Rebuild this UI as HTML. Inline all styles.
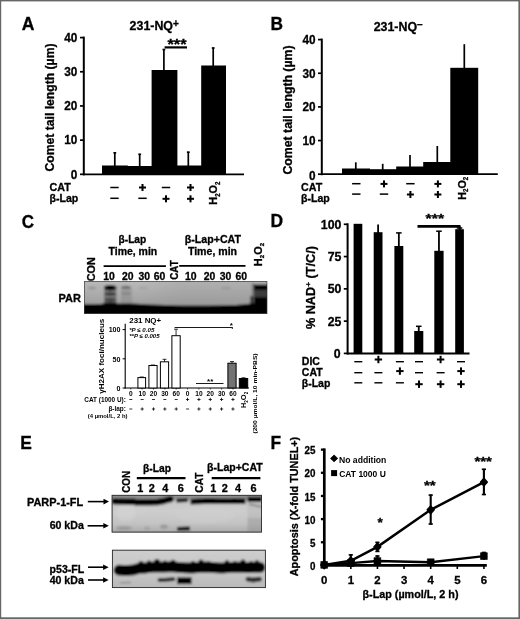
<!DOCTYPE html>
<html lang="en">
<head>
<meta charset="utf-8">
<title>Figure</title>
<style>
html,body{margin:0;padding:0;background:#fff;}
svg{display:block;font-family:'Liberation Sans', sans-serif;}
text{fill:#000;} .h{stroke:#000;stroke-width:0.3px;}
</style>
</head>
<body>
<svg width="520" height="619" viewBox="0 0 520 619" font-family="Liberation Sans, sans-serif" >

<defs>
<filter id="b1" x="-5%" y="-20%" width="110%" height="140%"><feGaussianBlur stdDeviation="1.05"/></filter>
<filter id="b2" x="-5%" y="-20%" width="110%" height="140%"><feGaussianBlur stdDeviation="0.95"/></filter>
<clipPath id="clipC"><rect x="84.1" y="281.1" width="183" height="32.7"/></clipPath>
<clipPath id="clipE1"><rect x="111.8" y="495" width="150" height="37.4"/></clipPath>
<clipPath id="clipE2"><rect x="112" y="549.8" width="153.8" height="38.2"/></clipPath>
<linearGradient id="gC" x1="0" y1="0" x2="0" y2="1">
<stop offset="0" stop-color="#bdbdbd"/><stop offset="0.2" stop-color="#b5b5b5"/><stop offset="0.45" stop-color="#aaaaaa"/><stop offset="0.7" stop-color="#9e9e9e"/><stop offset="1" stop-color="#949494"/>
</linearGradient>
<linearGradient id="gCh" x1="0" y1="0" x2="1" y2="0"><stop offset="0" stop-color="#8c8c8c" stop-opacity="0"/><stop offset="0.3" stop-color="#8c8c8c" stop-opacity="0.22"/><stop offset="1" stop-color="#8c8c8c" stop-opacity="0.22"/></linearGradient>
<linearGradient id="gE1" x1="0" y1="0" x2="0" y2="1">
<stop offset="0" stop-color="#c4c4c4"/><stop offset="0.45" stop-color="#cdcdcd"/><stop offset="0.72" stop-color="#c4c4c4"/><stop offset="0.88" stop-color="#b0b0b0"/><stop offset="1" stop-color="#969696"/>
</linearGradient>
<linearGradient id="gE2" x1="0" y1="0" x2="0" y2="1">
<stop offset="0" stop-color="#cfcfcf"/><stop offset="0.6" stop-color="#c6c6c6"/><stop offset="1" stop-color="#b4b4b4"/>
</linearGradient>
</defs>

<rect x="0" y="0" width="520" height="619" fill="#fff"/>
<text x="21.7" y="30.2" font-size="17.6" text-anchor="start" font-weight="bold" class="h" >A</text>
<text x="129.6" y="30.3" font-size="12.4" font-weight="bold" class="h">231-NQ<tspan dy="-3.6" font-size="10">+</tspan></text>
<text x="54" y="107.5" font-size="12" text-anchor="middle" font-weight="bold" transform="rotate(-90 54 107.5)" textLength="128" lengthAdjust="spacingAndGlyphs" class="h" >Comet tail length (µm)</text>
<line x1="83.8" y1="36.6" x2="83.8" y2="175.3" stroke="#000" stroke-width="2.0" />
<line x1="83.0" y1="174.3" x2="244" y2="174.3" stroke="#000" stroke-width="1.8" />
<line x1="80.0" y1="174.3" x2="83.8" y2="174.3" stroke="#000" stroke-width="1.7" />
<text x="77.4" y="178.5" font-size="12.5" text-anchor="end" font-weight="bold" textLength="6.55" lengthAdjust="spacingAndGlyphs" class="h" >0</text>
<line x1="80.0" y1="140.125" x2="83.8" y2="140.125" stroke="#000" stroke-width="1.7" />
<text x="77.4" y="144.325" font-size="12.5" text-anchor="end" font-weight="bold" textLength="13.1" lengthAdjust="spacingAndGlyphs" class="h" >10</text>
<line x1="80.0" y1="105.95" x2="83.8" y2="105.95" stroke="#000" stroke-width="1.7" />
<text x="77.4" y="110.15" font-size="12.5" text-anchor="end" font-weight="bold" textLength="13.1" lengthAdjust="spacingAndGlyphs" class="h" >20</text>
<line x1="80.0" y1="71.775" x2="83.8" y2="71.775" stroke="#000" stroke-width="1.7" />
<text x="77.4" y="75.97500000000001" font-size="12.5" text-anchor="end" font-weight="bold" textLength="13.1" lengthAdjust="spacingAndGlyphs" class="h" >30</text>
<line x1="80.0" y1="37.599999999999994" x2="83.8" y2="37.599999999999994" stroke="#000" stroke-width="1.7" />
<text x="77.4" y="41.8" font-size="12.5" text-anchor="end" font-weight="bold" textLength="13.1" lengthAdjust="spacingAndGlyphs" class="h" >40</text>
<rect x="102" y="165.5" width="25.799999999999997" height="8.800000000000011" fill="#000" />
<line x1="114.8" y1="152.3" x2="114.8" y2="166.5" stroke="#000" stroke-width="1.7" />
<line x1="113.39999999999999" y1="152.8" x2="116.2" y2="152.8" stroke="#000" stroke-width="1.6" />
<rect x="126.8" y="166" width="25.799999999999997" height="8.300000000000011" fill="#000" />
<line x1="139.7" y1="153.8" x2="139.7" y2="167" stroke="#000" stroke-width="1.7" />
<line x1="138.29999999999998" y1="154.3" x2="141.1" y2="154.3" stroke="#000" stroke-width="1.6" />
<rect x="151.6" y="70" width="25.80000000000001" height="104.30000000000001" fill="#000" />
<line x1="163.9" y1="49" x2="163.9" y2="71" stroke="#000" stroke-width="1.7" />
<line x1="162.5" y1="49.5" x2="165.3" y2="49.5" stroke="#000" stroke-width="1.6" />
<rect x="176.4" y="165.5" width="25.799999999999983" height="8.800000000000011" fill="#000" />
<line x1="188.3" y1="151.7" x2="188.3" y2="166.5" stroke="#000" stroke-width="1.7" />
<line x1="186.9" y1="152.2" x2="189.70000000000002" y2="152.2" stroke="#000" stroke-width="1.6" />
<rect x="201.2" y="65.5" width="24.80000000000001" height="108.80000000000001" fill="#000" />
<line x1="213.2" y1="47.5" x2="213.2" y2="66.5" stroke="#000" stroke-width="1.7" />
<line x1="211.79999999999998" y1="48.0" x2="214.6" y2="48.0" stroke="#000" stroke-width="1.6" />
<line x1="164.6" y1="47.4" x2="187" y2="47.4" stroke="#000" stroke-width="2.2" />
<text x="177" y="49.0" font-size="14" text-anchor="middle" font-weight="bold" textLength="19" lengthAdjust="spacingAndGlyphs" class="h" >***</text>
<text x="49.5" y="190.8" font-size="10.7" text-anchor="start" font-weight="bold" class="h" >CAT</text>
<text x="49.5" y="201.8" font-size="10.6" text-anchor="start" font-weight="bold" class="h" >β-Lap</text>
<rect x="110.3" y="186.75" width="8.4" height="1.5" fill="#000" />
<rect x="110.3" y="197.55" width="8.4" height="1.5" fill="#000" />
<rect x="139.0" y="186.5" width="7" height="2" fill="#000" />
<rect x="141.5" y="184.0" width="2" height="7" fill="#000" />
<rect x="138.3" y="197.55" width="8.4" height="1.5" fill="#000" />
<rect x="161.8" y="186.75" width="8.4" height="1.5" fill="#000" />
<rect x="162.5" y="197.8" width="7" height="2" fill="#000" />
<rect x="165.0" y="195.3" width="2" height="7" fill="#000" />
<rect x="187.0" y="186.5" width="7" height="2" fill="#000" />
<rect x="189.5" y="184.0" width="2" height="7" fill="#000" />
<rect x="187.0" y="197.8" width="7" height="2" fill="#000" />
<rect x="189.5" y="195.3" width="2" height="7" fill="#000" />
<text x="217.3" y="204.7" font-size="11.3" font-weight="bold" class="h" textLength="23.2" lengthAdjust="spacingAndGlyphs" transform="rotate(-90 217.3 204.7)">H<tspan dy="2.26" font-size="6.33">2</tspan><tspan dy="-2.26">O</tspan><tspan dy="2.26" font-size="6.33">2</tspan></text>
<text x="270.6" y="30.2" font-size="17.6" text-anchor="start" font-weight="bold" textLength="12.5" lengthAdjust="spacingAndGlyphs" class="h" >B</text>
<text x="373.7" y="30.6" font-size="12.4" font-weight="bold" class="h">231-NQ<tspan dy="-2.6" font-size="10">–</tspan></text>
<text x="292.3" y="110" font-size="12" text-anchor="middle" font-weight="bold" transform="rotate(-90 292.3 110)" textLength="129" lengthAdjust="spacingAndGlyphs" class="h" >Comet tail length (µm)</text>
<line x1="321.8" y1="38.6" x2="321.8" y2="175.2" stroke="#000" stroke-width="2.0" />
<line x1="321.0" y1="174.2" x2="497.8" y2="174.2" stroke="#000" stroke-width="1.8" />
<line x1="318.0" y1="174.2" x2="321.8" y2="174.2" stroke="#000" stroke-width="1.7" />
<text x="315.6" y="179.6" font-size="12.5" text-anchor="end" font-weight="bold" textLength="6.55" lengthAdjust="spacingAndGlyphs" class="h" >0</text>
<line x1="318.0" y1="140.54999999999998" x2="321.8" y2="140.54999999999998" stroke="#000" stroke-width="1.7" />
<text x="315.6" y="144.85" font-size="12.5" text-anchor="end" font-weight="bold" textLength="13.1" lengthAdjust="spacingAndGlyphs" class="h" >10</text>
<line x1="318.0" y1="106.89999999999999" x2="321.8" y2="106.89999999999999" stroke="#000" stroke-width="1.7" />
<text x="315.6" y="111.19999999999999" font-size="12.5" text-anchor="end" font-weight="bold" textLength="13.1" lengthAdjust="spacingAndGlyphs" class="h" >20</text>
<line x1="318.0" y1="73.25" x2="321.8" y2="73.25" stroke="#000" stroke-width="1.7" />
<text x="315.6" y="77.55" font-size="12.5" text-anchor="end" font-weight="bold" textLength="13.1" lengthAdjust="spacingAndGlyphs" class="h" >30</text>
<line x1="318.0" y1="39.599999999999994" x2="321.8" y2="39.599999999999994" stroke="#000" stroke-width="1.7" />
<text x="315.6" y="43.89999999999999" font-size="12.5" text-anchor="end" font-weight="bold" textLength="13.1" lengthAdjust="spacingAndGlyphs" class="h" >40</text>
<rect x="342.0" y="168.5" width="28.0" height="5.699999999999989" fill="#000" />
<line x1="355.8" y1="162.3" x2="355.8" y2="169.5" stroke="#000" stroke-width="1.7" />
<rect x="369.0" y="169.2" width="28.19999999999999" height="5.0" fill="#000" />
<line x1="382.7" y1="163.8" x2="382.7" y2="170.2" stroke="#000" stroke-width="1.7" />
<rect x="396.2" y="166.5" width="28.0" height="7.699999999999989" fill="#000" />
<line x1="410" y1="155" x2="410" y2="167.5" stroke="#000" stroke-width="1.7" />
<rect x="423.2" y="162" width="28.100000000000023" height="12.199999999999989" fill="#000" />
<line x1="437.3" y1="146" x2="437.3" y2="163" stroke="#000" stroke-width="1.7" />
<rect x="450.3" y="67.8" width="27.899999999999977" height="106.39999999999999" fill="#000" />
<line x1="464.3" y1="44.2" x2="464.3" y2="68.8" stroke="#000" stroke-width="1.7" />
<text x="301" y="190.8" font-size="10.7" text-anchor="start" font-weight="bold" class="h" >CAT</text>
<text x="301" y="202.2" font-size="10.6" text-anchor="start" font-weight="bold" class="h" >β-Lap</text>
<rect x="352.1" y="182.95" width="8.4" height="1.5" fill="#000" />
<rect x="352.1" y="193.35" width="8.4" height="1.5" fill="#000" />
<rect x="380.5" y="182.89999999999998" width="7" height="2" fill="#000" />
<rect x="383.0" y="180.39999999999998" width="2" height="7" fill="#000" />
<rect x="379.8" y="193.35" width="8.4" height="1.5" fill="#000" />
<rect x="406.2" y="182.95" width="8.4" height="1.5" fill="#000" />
<rect x="406.9" y="193.5" width="7" height="2" fill="#000" />
<rect x="409.4" y="191.0" width="2" height="7" fill="#000" />
<rect x="434.4" y="182.89999999999998" width="7" height="2" fill="#000" />
<rect x="436.9" y="180.39999999999998" width="2" height="7" fill="#000" />
<rect x="434.4" y="193.5" width="7" height="2" fill="#000" />
<rect x="436.9" y="191.0" width="2" height="7" fill="#000" />
<text x="465.6" y="199.8" font-size="11.3" font-weight="bold" class="h" textLength="23.0" lengthAdjust="spacingAndGlyphs" transform="rotate(-90 465.6 199.8)">H<tspan dy="2.26" font-size="6.33">2</tspan><tspan dy="-2.26">O</tspan><tspan dy="2.26" font-size="6.33">2</tspan></text>
<text x="21.7" y="228.4" font-size="17.6" text-anchor="start" font-weight="bold" textLength="12.3" lengthAdjust="spacingAndGlyphs" class="h" >C</text>
<text x="132.4" y="243.1" font-size="10.7" text-anchor="middle" font-weight="bold" textLength="27.8" lengthAdjust="spacingAndGlyphs" class="h" >β-Lap</text>
<text x="132.9" y="255.1" font-size="10.6" text-anchor="middle" font-weight="bold" textLength="48.7" lengthAdjust="spacingAndGlyphs" class="h" >Time, min</text>
<text x="212.9" y="242.8" font-size="10.6" text-anchor="middle" font-weight="bold" textLength="56.2" lengthAdjust="spacingAndGlyphs" class="h" >β-Lap+CAT</text>
<text x="212.5" y="254.6" font-size="10.6" text-anchor="middle" font-weight="bold" textLength="49.2" lengthAdjust="spacingAndGlyphs" class="h" >Time, min</text>
<text x="95.0" y="281.2" font-size="10" text-anchor="start" font-weight="bold" transform="rotate(-90 95.0 281.2)" textLength="24" lengthAdjust="spacingAndGlyphs" class="h" >CON</text>
<text x="177.8" y="279.7" font-size="10" text-anchor="start" font-weight="bold" transform="rotate(-90 177.8 279.7)" textLength="19.4" lengthAdjust="spacingAndGlyphs" class="h" >CAT</text>
<text x="262.0" y="266.2" font-size="11" font-weight="bold" class="h" textLength="23.4" lengthAdjust="spacingAndGlyphs" transform="rotate(-90 262.0 266.2)">H<tspan dy="2.42" font-size="6.16">2</tspan><tspan dy="-2.42">O</tspan><tspan dy="2.42" font-size="6.16">2</tspan></text>
<line x1="103.6" y1="266.1" x2="165.9" y2="266.1" stroke="#000" stroke-width="1.7" />
<line x1="179.2" y1="265.8" x2="245.5" y2="265.8" stroke="#000" stroke-width="1.7" />
<text x="109" y="279.9" font-size="11.2" text-anchor="middle" font-weight="bold" textLength="11.6" lengthAdjust="spacingAndGlyphs" class="h" >10</text>
<text x="127.8" y="279.9" font-size="11.2" text-anchor="middle" font-weight="bold" textLength="11.6" lengthAdjust="spacingAndGlyphs" class="h" >20</text>
<text x="144.2" y="279.9" font-size="11.2" text-anchor="middle" font-weight="bold" textLength="11.6" lengthAdjust="spacingAndGlyphs" class="h" >30</text>
<text x="159.6" y="279.9" font-size="11.2" text-anchor="middle" font-weight="bold" textLength="11.6" lengthAdjust="spacingAndGlyphs" class="h" >60</text>
<text x="190.7" y="279.9" font-size="11.2" text-anchor="middle" font-weight="bold" textLength="11.6" lengthAdjust="spacingAndGlyphs" class="h" >10</text>
<text x="209.6" y="279.9" font-size="11.2" text-anchor="middle" font-weight="bold" textLength="11.6" lengthAdjust="spacingAndGlyphs" class="h" >20</text>
<text x="225.6" y="279.9" font-size="11.2" text-anchor="middle" font-weight="bold" textLength="11.6" lengthAdjust="spacingAndGlyphs" class="h" >30</text>
<text x="241.2" y="279.9" font-size="11.2" text-anchor="middle" font-weight="bold" textLength="11.6" lengthAdjust="spacingAndGlyphs" class="h" >60</text>
<text x="58.5" y="301.5" font-size="11" text-anchor="start" font-weight="bold" class="h" >PAR</text>
<g clip-path="url(#clipC)"><g filter="url(#b1)">
<rect x="80" y="277" width="192" height="41" fill="url(#gC)" />
<rect x="140" y="277" width="135" height="41" fill="url(#gCh)" />
<rect x="104" y="286" width="12.5" height="20" fill="#4a4a4a" opacity="0.55"/>
<ellipse cx="110.2" cy="287.8" rx="6.3" ry="2.8" fill="#000"/>
<ellipse cx="110.2" cy="294" rx="6" ry="1.5" fill="#222" opacity="0.85"/>
<ellipse cx="110.2" cy="299.6" rx="6" ry="1.7" fill="#333" opacity="0.8"/>
<ellipse cx="110.2" cy="303.5" rx="7" ry="2" fill="#222" opacity="0.8"/>
<ellipse cx="126" cy="287.3" rx="5" ry="1.6" fill="#505050" opacity="0.7"/>
<rect x="121" y="288" width="11" height="17" fill="#777" opacity="0.32"/>
<ellipse cx="126" cy="293.5" rx="5" ry="1.3" fill="#666" opacity="0.4"/>
<ellipse cx="92" cy="288" rx="4" ry="1.4" fill="#808080" opacity="0.55"/>
<ellipse cx="143" cy="288" rx="5" ry="1.4" fill="#999" opacity="0.5"/>
<ellipse cx="226" cy="288" rx="5" ry="1.6" fill="#909090" opacity="0.5"/>
<rect x="250.5" y="296" width="22" height="24" fill="#000" />
<rect x="253" y="284.6" width="18" height="5.6" fill="#000" />
<rect x="253" y="290" width="18" height="7" fill="#3a3a3a" />
<rect x="251.5" y="283" width="3" height="20" fill="#777" opacity="0.6"/>
<path d="M78 304.4 L100 304.0 L104 303.4 L132 303.6 L150 304.6 L180 305.5 L210 305.4 L236 305.0 L252 303.6 L275 303 L275 320 L78 320 Z" fill="#000"/>
</g></g>
<rect x="84.4" y="281.4" width="182.5" height="32.2" fill="none" stroke="#333" stroke-width="0.8" opacity="0.8"/>
<text x="103.9" y="356.2" font-size="7.3" text-anchor="middle" font-weight="bold" transform="rotate(-90 103.9 356.2)" textLength="75" lengthAdjust="spacingAndGlyphs" >γH2AX foci/nucleus</text>
<line x1="125.2" y1="323.8" x2="125.2" y2="388.5" stroke="#000" stroke-width="1.1" />
<line x1="124.7" y1="388" x2="249" y2="388" stroke="#000" stroke-width="1.2" />
<line x1="122.60000000000001" y1="388.0" x2="125.2" y2="388.0" stroke="#000" stroke-width="1" />
<text x="120.5" y="390.7" font-size="7.1" text-anchor="end" font-weight="bold" >0</text>
<line x1="122.60000000000001" y1="358.8" x2="125.2" y2="358.8" stroke="#000" stroke-width="1" />
<text x="120.5" y="361.5" font-size="7.1" text-anchor="end" font-weight="bold" >50</text>
<line x1="122.60000000000001" y1="329.6" x2="125.2" y2="329.6" stroke="#000" stroke-width="1" />
<text x="120.5" y="332.3" font-size="7.1" text-anchor="end" font-weight="bold" >100</text>
<text x="129.3" y="323.2" font-size="7.9" text-anchor="start" font-weight="bold" >231 NQ+</text>
<text x="129.2" y="332.4" font-size="6.1" text-anchor="start" font-weight="bold" textLength="25.2" lengthAdjust="spacingAndGlyphs" font-style="italic" >*P ≤ 0.05</text>
<text x="129.2" y="338.4" font-size="6.1" text-anchor="start" font-weight="bold" textLength="30.4" lengthAdjust="spacingAndGlyphs" font-style="italic" >**P ≤ 0.005</text>
<rect x="137.9" y="377.6" width="7.7" height="10.4" fill="#fff" stroke="#000" stroke-width="1"/>
<line x1="141.75" y1="377" x2="141.75" y2="377.6" stroke="#000" stroke-width="0.8" />
<line x1="139.75" y1="377" x2="143.75" y2="377" stroke="#000" stroke-width="0.8" />
<rect x="148.9" y="365.5" width="8.2" height="22.5" fill="#fff" stroke="#000" stroke-width="1"/>
<line x1="153.0" y1="365" x2="153.0" y2="365.5" stroke="#000" stroke-width="0.8" />
<line x1="151.0" y1="365" x2="155.0" y2="365" stroke="#000" stroke-width="0.8" />
<rect x="160.4" y="361.8" width="8.2" height="26.2" fill="#fff" stroke="#000" stroke-width="1"/>
<line x1="164.5" y1="359.3" x2="164.5" y2="361.8" stroke="#000" stroke-width="0.8" />
<line x1="162.5" y1="359.3" x2="166.5" y2="359.3" stroke="#000" stroke-width="0.8" />
<rect x="171.9" y="335.7" width="8.3" height="52.3" fill="#fff" stroke="#000" stroke-width="1"/>
<line x1="176.05" y1="329.2" x2="176.05" y2="335.7" stroke="#000" stroke-width="0.8" />
<line x1="174.05" y1="329.2" x2="178.05" y2="329.2" stroke="#000" stroke-width="0.8" />
<rect x="227.9" y="363.2" width="8.2" height="24.8" fill="#737373" stroke="#000" stroke-width="1"/>
<line x1="232.0" y1="361.6" x2="232.0" y2="363.2" stroke="#000" stroke-width="0.8" />
<line x1="230.0" y1="361.6" x2="234.0" y2="361.6" stroke="#000" stroke-width="0.8" />
<rect x="239.3" y="378.5" width="8.4" height="9.5" fill="#000" stroke="#000" stroke-width="1"/>
<line x1="243.5" y1="377.8" x2="243.5" y2="378.5" stroke="#000" stroke-width="0.8" />
<line x1="241.5" y1="377.8" x2="245.5" y2="377.8" stroke="#000" stroke-width="0.8" />
<line x1="174.6" y1="327.5" x2="232.6" y2="327.5" stroke="#000" stroke-width="0.9" />
<line x1="232.3" y1="327.3" x2="232.3" y2="329" stroke="#000" stroke-width="0.9" />
<text x="231.3" y="328.3" font-size="8" text-anchor="middle" font-weight="bold" >*</text>
<line x1="196" y1="383.5" x2="223.5" y2="383.5" stroke="#000" stroke-width="0.9" />
<text x="210.2" y="384.3" font-size="8" text-anchor="middle" font-weight="bold" textLength="6.2" lengthAdjust="spacingAndGlyphs" >**</text>
<text x="130.8" y="396.4" font-size="6.6" text-anchor="middle" font-weight="bold" >0</text>
<line x1="130.8" y1="388" x2="130.8" y2="389.5" stroke="#000" stroke-width="0.7" />
<text x="142.15" y="396.4" font-size="6.6" text-anchor="middle" font-weight="bold" >10</text>
<line x1="142.15" y1="388" x2="142.15" y2="389.5" stroke="#000" stroke-width="0.7" />
<text x="153.5" y="396.4" font-size="6.6" text-anchor="middle" font-weight="bold" >20</text>
<line x1="153.5" y1="388" x2="153.5" y2="389.5" stroke="#000" stroke-width="0.7" />
<text x="164.85000000000002" y="396.4" font-size="6.6" text-anchor="middle" font-weight="bold" >30</text>
<line x1="164.85000000000002" y1="388" x2="164.85000000000002" y2="389.5" stroke="#000" stroke-width="0.7" />
<text x="176.20000000000002" y="396.4" font-size="6.6" text-anchor="middle" font-weight="bold" >60</text>
<line x1="176.20000000000002" y1="388" x2="176.20000000000002" y2="389.5" stroke="#000" stroke-width="0.7" />
<text x="187.55" y="396.4" font-size="6.6" text-anchor="middle" font-weight="bold" >0</text>
<line x1="187.55" y1="388" x2="187.55" y2="389.5" stroke="#000" stroke-width="0.7" />
<text x="198.9" y="396.4" font-size="6.6" text-anchor="middle" font-weight="bold" >10</text>
<line x1="198.9" y1="388" x2="198.9" y2="389.5" stroke="#000" stroke-width="0.7" />
<text x="210.25" y="396.4" font-size="6.6" text-anchor="middle" font-weight="bold" >20</text>
<line x1="210.25" y1="388" x2="210.25" y2="389.5" stroke="#000" stroke-width="0.7" />
<text x="221.60000000000002" y="396.4" font-size="6.6" text-anchor="middle" font-weight="bold" >30</text>
<line x1="221.60000000000002" y1="388" x2="221.60000000000002" y2="389.5" stroke="#000" stroke-width="0.7" />
<text x="232.95" y="396.4" font-size="6.6" text-anchor="middle" font-weight="bold" >60</text>
<line x1="232.95" y1="388" x2="232.95" y2="389.5" stroke="#000" stroke-width="0.7" />
<rect x="129.3" y="399.0" width="3" height="0.8" fill="#000" />
<rect x="129.3" y="408.6" width="3" height="0.8" fill="#000" />
<rect x="140.65" y="399.0" width="3" height="0.8" fill="#000" />
<rect x="140.55" y="408.6" width="3.2" height="0.8" fill="#000" />
<rect x="141.75" y="407.4" width="0.8" height="3.2" fill="#000" />
<rect x="152.0" y="399.0" width="3" height="0.8" fill="#000" />
<rect x="151.9" y="408.6" width="3.2" height="0.8" fill="#000" />
<rect x="153.1" y="407.4" width="0.8" height="3.2" fill="#000" />
<rect x="163.35000000000002" y="399.0" width="3" height="0.8" fill="#000" />
<rect x="163.25000000000003" y="408.6" width="3.2" height="0.8" fill="#000" />
<rect x="164.45000000000002" y="407.4" width="0.8" height="3.2" fill="#000" />
<rect x="174.70000000000002" y="399.0" width="3" height="0.8" fill="#000" />
<rect x="174.60000000000002" y="408.6" width="3.2" height="0.8" fill="#000" />
<rect x="175.8" y="407.4" width="0.8" height="3.2" fill="#000" />
<rect x="185.95000000000002" y="399.0" width="3.2" height="0.8" fill="#000" />
<rect x="187.15" y="397.79999999999995" width="0.8" height="3.2" fill="#000" />
<rect x="186.05" y="408.6" width="3" height="0.8" fill="#000" />
<rect x="197.3" y="399.0" width="3.2" height="0.8" fill="#000" />
<rect x="198.5" y="397.79999999999995" width="0.8" height="3.2" fill="#000" />
<rect x="197.3" y="408.6" width="3.2" height="0.8" fill="#000" />
<rect x="198.5" y="407.4" width="0.8" height="3.2" fill="#000" />
<rect x="208.65" y="399.0" width="3.2" height="0.8" fill="#000" />
<rect x="209.85" y="397.79999999999995" width="0.8" height="3.2" fill="#000" />
<rect x="208.65" y="408.6" width="3.2" height="0.8" fill="#000" />
<rect x="209.85" y="407.4" width="0.8" height="3.2" fill="#000" />
<rect x="220.00000000000003" y="399.0" width="3.2" height="0.8" fill="#000" />
<rect x="221.20000000000002" y="397.79999999999995" width="0.8" height="3.2" fill="#000" />
<rect x="220.00000000000003" y="408.6" width="3.2" height="0.8" fill="#000" />
<rect x="221.20000000000002" y="407.4" width="0.8" height="3.2" fill="#000" />
<rect x="231.35" y="399.0" width="3.2" height="0.8" fill="#000" />
<rect x="232.54999999999998" y="397.79999999999995" width="0.8" height="3.2" fill="#000" />
<rect x="231.35" y="408.6" width="3.2" height="0.8" fill="#000" />
<rect x="232.54999999999998" y="407.4" width="0.8" height="3.2" fill="#000" />
<text x="125.8" y="401.6" font-size="6.4" text-anchor="end" font-weight="bold" >CAT (1000 U):</text>
<text x="125.8" y="410.6" font-size="6.4" text-anchor="end" font-weight="bold" >β-lap:</text>
<text x="127.5" y="417.6" font-size="5.9" text-anchor="end" font-weight="bold" >(4 µmol/L, 2 h)</text>
<text x="246.4" y="408.1" font-size="7.5" font-weight="bold" textLength="16.3" lengthAdjust="spacingAndGlyphs" transform="rotate(-90 246.4 408.1)">H<tspan dy="1.5" font-size="4.65">2</tspan><tspan dy="-1.5">O</tspan><tspan dy="1.5" font-size="4.65">2</tspan></text>
<text x="257.0" y="433.6" font-size="6" text-anchor="start" font-weight="bold" transform="rotate(-90 257.0 433.6)" textLength="80.2" lengthAdjust="spacingAndGlyphs" >(200 µmol/L, 10 min-PBS)</text>
<text x="270.6" y="227.2" font-size="17.6" text-anchor="start" font-weight="bold" textLength="12.6" lengthAdjust="spacingAndGlyphs" class="h" >D</text>
<text x="314.9" y="287.6" font-size="12.4" font-weight="bold" class="h" text-anchor="middle" textLength="83" lengthAdjust="spacingAndGlyphs" transform="rotate(-90 314.9 287.6)">% NAD<tspan dy="-4" font-size="8">+</tspan><tspan dy="4"> (T/C/)</tspan></text>
<line x1="347.6" y1="223.3" x2="347.6" y2="354.4" stroke="#000" stroke-width="2.0" />
<line x1="346.8" y1="353.4" x2="469.5" y2="353.4" stroke="#000" stroke-width="2" />
<line x1="343.8" y1="353.4" x2="347.6" y2="353.4" stroke="#000" stroke-width="1.7" />
<text x="340.6" y="358.0" font-size="12.4" text-anchor="end" font-weight="bold" textLength="6.85" lengthAdjust="spacingAndGlyphs" class="h" >0</text>
<line x1="343.8" y1="321.125" x2="347.6" y2="321.125" stroke="#000" stroke-width="1.7" />
<text x="341.4" y="325.525" font-size="12.4" text-anchor="end" font-weight="bold" textLength="13.7" lengthAdjust="spacingAndGlyphs" class="h" >25</text>
<line x1="343.8" y1="288.85" x2="347.6" y2="288.85" stroke="#000" stroke-width="1.7" />
<text x="341.4" y="293.25" font-size="12.4" text-anchor="end" font-weight="bold" textLength="13.7" lengthAdjust="spacingAndGlyphs" class="h" >50</text>
<line x1="343.8" y1="256.575" x2="347.6" y2="256.575" stroke="#000" stroke-width="1.7" />
<text x="341.4" y="260.97499999999997" font-size="12.4" text-anchor="end" font-weight="bold" textLength="13.7" lengthAdjust="spacingAndGlyphs" class="h" >75</text>
<line x1="343.8" y1="224.3" x2="347.6" y2="224.3" stroke="#000" stroke-width="1.7" />
<text x="341.4" y="228.70000000000002" font-size="12.4" text-anchor="end" font-weight="bold" textLength="20.549999999999997" lengthAdjust="spacingAndGlyphs" class="h" >100</text>
<rect x="353.6" y="223.8" width="8.699999999999989" height="129.59999999999997" fill="#000" />
<rect x="373.7" y="232.2" width="8.800000000000011" height="121.19999999999999" fill="#000" />
<line x1="378.1" y1="224.4" x2="378.1" y2="233.2" stroke="#000" stroke-width="1.8" />
<rect x="394.4" y="246" width="8.900000000000034" height="107.39999999999998" fill="#000" />
<line x1="398.85" y1="232.9" x2="398.85" y2="247" stroke="#000" stroke-width="1.8" />
<line x1="396.05" y1="232.9" x2="401.65000000000003" y2="232.9" stroke="#000" stroke-width="1.5" />
<rect x="414.2" y="331" width="9.100000000000023" height="22.399999999999977" fill="#000" />
<line x1="418.75" y1="326.3" x2="418.75" y2="332" stroke="#000" stroke-width="1.8" />
<line x1="415.95" y1="326.3" x2="421.55" y2="326.3" stroke="#000" stroke-width="1.5" />
<rect x="434.3" y="250.8" width="9.300000000000011" height="102.59999999999997" fill="#000" />
<line x1="438.95000000000005" y1="231.2" x2="438.95000000000005" y2="251.8" stroke="#000" stroke-width="1.8" />
<line x1="436.15000000000003" y1="231.2" x2="441.75000000000006" y2="231.2" stroke="#000" stroke-width="1.5" />
<rect x="455.2" y="229.2" width="8.699999999999989" height="124.19999999999999" fill="#000" />
<line x1="459.54999999999995" y1="228" x2="459.54999999999995" y2="230.2" stroke="#000" stroke-width="1.8" />
<line x1="456.74999999999994" y1="228" x2="462.34999999999997" y2="228" stroke="#000" stroke-width="1.5" />
<line x1="417.5" y1="226.4" x2="460.5" y2="226.4" stroke="#000" stroke-width="2.8" />
<line x1="459.8" y1="226" x2="459.8" y2="229.5" stroke="#000" stroke-width="1.4" />
<text x="434.8" y="222.6" font-size="13.5" text-anchor="middle" font-weight="bold" textLength="18.5" lengthAdjust="spacingAndGlyphs" class="h" >***</text>
<text x="301.8" y="365.3" font-size="10.5" text-anchor="start" font-weight="bold" class="h" >DIC</text>
<text x="301.8" y="376.1" font-size="10.5" text-anchor="start" font-weight="bold" class="h" >CAT</text>
<text x="301.8" y="386.9" font-size="10.5" text-anchor="start" font-weight="bold" class="h" >β-Lap</text>
<rect x="354.3" y="361.0" width="8" height="1.4" fill="#000" />
<rect x="374.7" y="358.5" width="7.4" height="2" fill="#000" />
<rect x="377.4" y="355.8" width="2" height="7.4" fill="#000" />
<rect x="395.9" y="361.0" width="8" height="1.4" fill="#000" />
<rect x="415.0" y="361.0" width="8" height="1.4" fill="#000" />
<rect x="436.90000000000003" y="358.5" width="7.4" height="2" fill="#000" />
<rect x="439.6" y="355.8" width="2" height="7.4" fill="#000" />
<rect x="457.0" y="361.0" width="8" height="1.4" fill="#000" />
<rect x="354.3" y="372.0" width="8" height="1.4" fill="#000" />
<rect x="374.4" y="372.0" width="8" height="1.4" fill="#000" />
<rect x="396.2" y="370.09999999999997" width="7.4" height="2" fill="#000" />
<rect x="398.9" y="367.4" width="2" height="7.4" fill="#000" />
<rect x="415.0" y="372.0" width="8" height="1.4" fill="#000" />
<rect x="436.6" y="372.0" width="8" height="1.4" fill="#000" />
<rect x="457.3" y="370.09999999999997" width="7.4" height="2" fill="#000" />
<rect x="460.0" y="367.4" width="2" height="7.4" fill="#000" />
<rect x="354.3" y="382.1" width="8" height="1.4" fill="#000" />
<rect x="374.4" y="382.1" width="8" height="1.4" fill="#000" />
<rect x="395.9" y="382.1" width="8" height="1.4" fill="#000" />
<rect x="415.3" y="383.2" width="7.4" height="2" fill="#000" />
<rect x="418.0" y="380.5" width="2" height="7.4" fill="#000" />
<rect x="436.90000000000003" y="383.2" width="7.4" height="2" fill="#000" />
<rect x="439.6" y="380.5" width="2" height="7.4" fill="#000" />
<rect x="457.3" y="383.2" width="7.4" height="2" fill="#000" />
<rect x="460.0" y="380.5" width="2" height="7.4" fill="#000" />
<text x="20.2" y="448.8" font-size="17.6" text-anchor="start" font-weight="bold" textLength="11.6" lengthAdjust="spacingAndGlyphs" class="h" >E</text>
<text x="157.0" y="471.5" font-size="10.8" text-anchor="middle" font-weight="bold" textLength="27.9" lengthAdjust="spacingAndGlyphs" class="h" >β-Lap</text>
<text x="234.9" y="471.1" font-size="10.8" text-anchor="middle" font-weight="bold" textLength="55.6" lengthAdjust="spacingAndGlyphs" class="h" >β-Lap+CAT</text>
<line x1="136.8" y1="478.1" x2="185.5" y2="478.1" stroke="#000" stroke-width="2.1" />
<line x1="211.7" y1="478.1" x2="260.4" y2="478.1" stroke="#000" stroke-width="2.1" />
<text x="129.7" y="492.7" font-size="10.4" text-anchor="start" font-weight="bold" transform="rotate(-90 129.7 492.7)" textLength="21.8" lengthAdjust="spacingAndGlyphs" class="h" >CON</text>
<text x="203.1" y="492.7" font-size="10.7" text-anchor="start" font-weight="bold" transform="rotate(-90 203.1 492.7)" textLength="20.2" lengthAdjust="spacingAndGlyphs" class="h" >CAT</text>
<text x="140.2" y="491.9" font-size="10.9" text-anchor="middle" font-weight="bold" class="h" >1</text>
<text x="151.7" y="491.9" font-size="10.9" text-anchor="middle" font-weight="bold" class="h" >2</text>
<text x="165.4" y="491.9" font-size="10.9" text-anchor="middle" font-weight="bold" class="h" >4</text>
<text x="180.7" y="491.9" font-size="10.9" text-anchor="middle" font-weight="bold" class="h" >6</text>
<text x="213.4" y="491.9" font-size="10.9" text-anchor="middle" font-weight="bold" class="h" >1</text>
<text x="224.9" y="491.9" font-size="10.9" text-anchor="middle" font-weight="bold" class="h" >2</text>
<text x="238" y="491.9" font-size="10.9" text-anchor="middle" font-weight="bold" class="h" >4</text>
<text x="253.6" y="491.9" font-size="10.9" text-anchor="middle" font-weight="bold" class="h" >6</text>
<text x="83.2" y="505.6" font-size="10.8" text-anchor="end" font-weight="bold" textLength="56.2" lengthAdjust="spacingAndGlyphs" class="h" >PARP-1-FL</text>
<text x="83.8" y="529" font-size="10.6" text-anchor="end" font-weight="bold" class="h" >60 kDa</text>
<line x1="87.8" y1="501.6" x2="106" y2="501.6" stroke="#000" stroke-width="1.6" />
<polygon points="109,501.6 103.5,498.8 103.5,504.40000000000003" fill="#000"/>
<line x1="87.6" y1="525.8" x2="105.8" y2="525.8" stroke="#000" stroke-width="1.6" />
<polygon points="108.8,525.8 103.3,523.0 103.3,528.5999999999999" fill="#000"/>
<g clip-path="url(#clipE1)"><g filter="url(#b2)">
<rect x="108" y="491" width="158" height="45" fill="url(#gE1)" />
<rect x="108" y="491" width="158" height="8.6" fill="#6e6e6e" opacity="0.62"/>
<ellipse cx="126" cy="513" rx="10" ry="8" fill="#dadada" opacity="0.4"/>
<ellipse cx="205" cy="515" rx="30" ry="8" fill="#d0d0d0" opacity="0.5"/>
<path d="M114.5 501.4 L125 501.6 L134 501.8 L136 502.4 L150 502.3 L158 502.0 L163 501.2 L167 500.0 L170.5 499.2" stroke="#000" stroke-width="6.4" fill="none" stroke-linecap="round"/>
<path d="M176.5 500.6 L188 500.3" stroke="#000" stroke-width="3.6" fill="none"/>
<path d="M190.5 501.2 L198 500.9 L204 500.6 L206 500.4 L220 500.7 L231 500.8 L233 500.6 L245.5 500.8" stroke="#000" stroke-width="5.6" fill="none" transform="translate(0 0.5)"/>
<path d="M247.5 499.4 L262 499.4" stroke="#000" stroke-width="5.2" fill="none"/>
<path d="M249 504 L262 507" stroke="#777" stroke-width="1.6" fill="none"/>
<rect x="247.5" y="502" width="16" height="32" fill="#9a9a9a" opacity="0.22"/>
<rect x="247.5" y="518" width="16" height="14" fill="#888" opacity="0.28"/>
<path d="M177 528.8 L190 528.5" stroke="#000" stroke-width="3.8" fill="none"/>
<ellipse cx="164" cy="526.5" rx="4" ry="2" fill="#777" opacity="0.5"/>
<ellipse cx="124" cy="528" rx="8" ry="2" fill="#777" opacity="0.45"/>
<ellipse cx="147" cy="528" rx="3" ry="1.6" fill="#808080" opacity="0.4"/>
</g></g>
<rect x="112.1" y="495.3" width="149.4" height="36.8" fill="none" stroke="#2a2a2a" stroke-width="0.9"/>
<text x="84.3" y="572.6" font-size="10.6" text-anchor="end" font-weight="bold" class="h" >p53-FL</text>
<text x="83.8" y="583.8" font-size="10.6" text-anchor="end" font-weight="bold" class="h" >40 kDa</text>
<line x1="88" y1="567.2" x2="105.6" y2="567.2" stroke="#000" stroke-width="1.6" />
<polygon points="108.6,567.2 103.1,564.4000000000001 103.1,570.0" fill="#000"/>
<line x1="88" y1="580.0" x2="105.6" y2="580.0" stroke="#000" stroke-width="1.6" />
<polygon points="108.6,580.0 103.1,577.2 103.1,582.8" fill="#000"/>
<g clip-path="url(#clipE2)"><g filter="url(#b2)">
<rect x="108" y="546" width="162" height="46" fill="url(#gE2)" />
<path d="M119 570.2 L126 570.6 L134 569.8 L139 568.4 L146 568.0 L152 567.2 L157 566.8 L164 567.2 L172 566.6 L178 567.4 L186 567.8 L192 568.0 L200 567.4 L206 567.0 L214 567.6 L222 568.2 L230 567.4 L240 567.2 L248 567.6 L256 567.2 L260 567.4" stroke="#060606" stroke-width="10.8" fill="none" stroke-linejoin="round" stroke-linecap="round"/>
<path d="M119.5 570.4 L134 570" stroke="#060606" stroke-width="7" fill="none" stroke-linecap="round"/>
<circle cx="141" cy="563.6" r="2.6" fill="#060606"/>
<circle cx="149" cy="562.8" r="2.4" fill="#060606"/>
<circle cx="157" cy="561.8" r="2.8" fill="#060606"/>
<circle cx="165" cy="562.6" r="2.2" fill="#060606"/>
<circle cx="173" cy="562.4" r="2.6" fill="#060606"/>
<circle cx="193" cy="563.4" r="2.4" fill="#060606"/>
<circle cx="201" cy="562.2" r="2.6" fill="#060606"/>
<circle cx="209" cy="563.4" r="2.2" fill="#060606"/>
<circle cx="227" cy="562.6" r="2.4" fill="#060606"/>
<circle cx="235" cy="563.2" r="2.2" fill="#060606"/>
<circle cx="243" cy="562.0" r="2.6" fill="#060606"/>
<circle cx="251" cy="563.2" r="2.2" fill="#060606"/>
<circle cx="257" cy="562.6" r="2.4" fill="#060606"/>
<path d="M260 564 L264.5 567.2 L260 570.5 Z" fill="#060606"/>
<path d="M177 580.7 L191.6 580.7" stroke="#050505" stroke-width="6.8" fill="none"/>
<path d="M159.5 580.0 L165 579.9 L173.5 579.2" stroke="#222" stroke-width="3.8" fill="none" stroke-linecap="round"/>
<path d="M248 579.2 L253 580 L259.5 579.2" stroke="#2a2a2a" stroke-width="4.8" fill="none" stroke-linecap="round"/>
<path d="M120.5 582.8 L130.5 582.6" stroke="#8a8a8a" stroke-width="1.5" fill="none" stroke-linecap="round"/>
</g></g>
<rect x="112.4" y="550.2" width="153" height="37.4" fill="none" stroke="#2a2a2a" stroke-width="0.9"/>
<text x="270.6" y="448.8" font-size="17.6" text-anchor="start" font-weight="bold" textLength="10.6" lengthAdjust="spacingAndGlyphs" class="h" >F</text>
<text x="298.3" y="506.5" font-size="11" text-anchor="middle" font-weight="bold" transform="rotate(-90 298.3 506.5)" textLength="139.5" lengthAdjust="spacingAndGlyphs" class="h" >Apoptosis (X-fold TUNEL+)</text>
<line x1="324.3" y1="448.4" x2="324.3" y2="566.4" stroke="#000" stroke-width="2.7" />
<line x1="323.0" y1="565.4" x2="486.8" y2="565.4" stroke="#000" stroke-width="2.6" />
<line x1="320.90000000000003" y1="565.4" x2="324.3" y2="565.4" stroke="#000" stroke-width="2.3" />
<text x="315.5" y="569.9499999999999" font-size="11.4" text-anchor="end" font-weight="bold" textLength="5.45" lengthAdjust="spacingAndGlyphs" class="h" >0</text>
<line x1="320.90000000000003" y1="542.25" x2="324.3" y2="542.25" stroke="#000" stroke-width="2.3" />
<text x="315.5" y="546.8" font-size="11.4" text-anchor="end" font-weight="bold" textLength="5.45" lengthAdjust="spacingAndGlyphs" class="h" >5</text>
<line x1="320.90000000000003" y1="519.1" x2="324.3" y2="519.1" stroke="#000" stroke-width="2.3" />
<text x="315.5" y="523.65" font-size="11.4" text-anchor="end" font-weight="bold" textLength="10.9" lengthAdjust="spacingAndGlyphs" class="h" >10</text>
<line x1="320.90000000000003" y1="495.95" x2="324.3" y2="495.95" stroke="#000" stroke-width="2.3" />
<text x="315.5" y="500.5" font-size="11.4" text-anchor="end" font-weight="bold" textLength="10.9" lengthAdjust="spacingAndGlyphs" class="h" >15</text>
<line x1="320.90000000000003" y1="472.79999999999995" x2="324.3" y2="472.79999999999995" stroke="#000" stroke-width="2.3" />
<text x="315.5" y="477.34999999999997" font-size="11.4" text-anchor="end" font-weight="bold" textLength="10.9" lengthAdjust="spacingAndGlyphs" class="h" >20</text>
<line x1="320.90000000000003" y1="449.65" x2="324.3" y2="449.65" stroke="#000" stroke-width="2.3" />
<text x="315.5" y="454.2" font-size="11.4" text-anchor="end" font-weight="bold" textLength="10.9" lengthAdjust="spacingAndGlyphs" class="h" >25</text>
<line x1="324.2" y1="565.4" x2="324.2" y2="569.0" stroke="#000" stroke-width="1.6" />
<text x="324.2" y="583.6" font-size="11.4" text-anchor="middle" font-weight="bold" class="h" >0</text>
<line x1="350.82" y1="565.4" x2="350.82" y2="569.0" stroke="#000" stroke-width="1.6" />
<text x="350.82" y="583.6" font-size="11.4" text-anchor="middle" font-weight="bold" class="h" >1</text>
<line x1="377.44" y1="565.4" x2="377.44" y2="569.0" stroke="#000" stroke-width="1.6" />
<text x="377.44" y="583.6" font-size="11.4" text-anchor="middle" font-weight="bold" class="h" >2</text>
<line x1="404.06" y1="565.4" x2="404.06" y2="569.0" stroke="#000" stroke-width="1.6" />
<text x="404.06" y="583.6" font-size="11.4" text-anchor="middle" font-weight="bold" class="h" >3</text>
<line x1="430.68" y1="565.4" x2="430.68" y2="569.0" stroke="#000" stroke-width="1.6" />
<text x="430.68" y="583.6" font-size="11.4" text-anchor="middle" font-weight="bold" class="h" >4</text>
<line x1="457.29999999999995" y1="565.4" x2="457.29999999999995" y2="569.0" stroke="#000" stroke-width="1.6" />
<text x="457.29999999999995" y="583.6" font-size="11.4" text-anchor="middle" font-weight="bold" class="h" >5</text>
<line x1="483.91999999999996" y1="565.4" x2="483.91999999999996" y2="569.0" stroke="#000" stroke-width="1.6" />
<text x="483.91999999999996" y="583.6" font-size="11.4" text-anchor="middle" font-weight="bold" class="h" >6</text>
<text x="410.5" y="598.1" font-size="11" text-anchor="middle" font-weight="bold" textLength="96" lengthAdjust="spacingAndGlyphs" class="h" >β-Lap (µmol/L, 2 h)</text>
<polygon points="334.1,455.0 337.7,458.4 334.1,461.8 330.5,458.4" fill="#000" stroke="#000" stroke-width="0.8" stroke-linejoin="round"/>
<text x="339" y="462.5" font-size="8.6" text-anchor="start" font-weight="bold" textLength="47.3" lengthAdjust="spacingAndGlyphs" >No addition</text>
<rect x="331.1" y="470.1" width="6.0" height="6.0" fill="#000" />
<text x="339.2" y="477.0" font-size="8.6" text-anchor="start" font-weight="bold" textLength="46.6" lengthAdjust="spacingAndGlyphs" >CAT 1000 U</text>
<polyline points="324.2,564.9 350.8,560.8 377.4,546.9 430.7,509.8 483.9,482.1" fill="none" stroke="#000" stroke-width="2.5"/>
<polygon points="324.2,561.0 327.7,564.9 324.2,568.8 320.7,564.9" fill="#000" stroke="#000" stroke-width="1.4" stroke-linejoin="round"/>
<line x1="350.8" y1="554.3" x2="350.8" y2="565.4" stroke="#000" stroke-width="2.1" />
<line x1="348.7" y1="554.9" x2="352.90000000000003" y2="554.9" stroke="#000" stroke-width="1.6" />
<line x1="348.7" y1="564.8" x2="352.90000000000003" y2="564.8" stroke="#000" stroke-width="1.6" />
<polygon points="350.8,556.9 354.3,560.8 350.8,564.6999999999999 347.3,560.8" fill="#000" stroke="#000" stroke-width="1.4" stroke-linejoin="round"/>
<line x1="377.4" y1="541.8" x2="377.4" y2="552.0" stroke="#000" stroke-width="2.1" />
<line x1="375.29999999999995" y1="542.4" x2="379.5" y2="542.4" stroke="#000" stroke-width="1.6" />
<line x1="375.29999999999995" y1="551.4" x2="379.5" y2="551.4" stroke="#000" stroke-width="1.6" />
<polygon points="377.4,543.0 380.9,546.9 377.4,550.8 373.9,546.9" fill="#000" stroke="#000" stroke-width="1.4" stroke-linejoin="round"/>
<line x1="430.7" y1="494.5" x2="430.7" y2="524.6" stroke="#000" stroke-width="2.1" />
<line x1="428.59999999999997" y1="495.1" x2="432.8" y2="495.1" stroke="#000" stroke-width="1.6" />
<line x1="428.59999999999997" y1="524.0" x2="432.8" y2="524.0" stroke="#000" stroke-width="1.6" />
<polygon points="430.7,505.90000000000003 434.2,509.8 430.7,513.7 427.2,509.8" fill="#000" stroke="#000" stroke-width="1.4" stroke-linejoin="round"/>
<line x1="483.9" y1="468.7" x2="483.9" y2="495.1" stroke="#000" stroke-width="2.1" />
<line x1="481.79999999999995" y1="469.3" x2="486.0" y2="469.3" stroke="#000" stroke-width="1.6" />
<line x1="481.79999999999995" y1="494.5" x2="486.0" y2="494.5" stroke="#000" stroke-width="1.6" />
<polygon points="483.9,478.20000000000005 487.4,482.1 483.9,486.0 480.4,482.1" fill="#000" stroke="#000" stroke-width="1.4" stroke-linejoin="round"/>
<polyline points="324.2,564.9 350.8,563.1 377.4,561.0 430.7,562.2 483.9,556.1" fill="none" stroke="#000" stroke-width="2.4"/>
<rect x="320.8" y="561.5" width="6.8" height="6.8" fill="#000" stroke="#000" stroke-width="0.6" stroke-linejoin="round"/>
<line x1="350.8" y1="560.3" x2="350.8" y2="565.4" stroke="#000" stroke-width="2.1" />
<line x1="348.7" y1="560.9" x2="352.90000000000003" y2="560.9" stroke="#000" stroke-width="1.6" />
<rect x="347.40000000000003" y="559.7" width="6.8" height="6.8" fill="#000" stroke="#000" stroke-width="0.6" stroke-linejoin="round"/>
<line x1="377.4" y1="555.4" x2="377.4" y2="565.2" stroke="#000" stroke-width="2.1" />
<line x1="375.29999999999995" y1="556.0" x2="379.5" y2="556.0" stroke="#000" stroke-width="1.6" />
<rect x="374.0" y="557.6" width="6.8" height="6.8" fill="#000" stroke="#000" stroke-width="0.6" stroke-linejoin="round"/>
<line x1="430.7" y1="559.9" x2="430.7" y2="564.5" stroke="#000" stroke-width="2.1" />
<line x1="428.59999999999997" y1="560.5" x2="432.8" y2="560.5" stroke="#000" stroke-width="1.6" />
<rect x="427.3" y="558.8000000000001" width="6.8" height="6.8" fill="#000" stroke="#000" stroke-width="0.6" stroke-linejoin="round"/>
<line x1="483.9" y1="551.9" x2="483.9" y2="559.8" stroke="#000" stroke-width="2.1" />
<line x1="481.79999999999995" y1="552.5" x2="486.0" y2="552.5" stroke="#000" stroke-width="1.6" />
<rect x="480.5" y="552.7" width="6.8" height="6.8" fill="#000" stroke="#000" stroke-width="0.6" stroke-linejoin="round"/>
<text x="380.2" y="527.0" font-size="13.5" text-anchor="middle" font-weight="bold" class="h" >*</text>
<text x="429.8" y="490.2" font-size="13.5" text-anchor="middle" font-weight="bold" textLength="11.8" lengthAdjust="spacingAndGlyphs" class="h" >**</text>
<text x="483.2" y="466.3" font-size="13.5" text-anchor="middle" font-weight="bold" textLength="17.6" lengthAdjust="spacingAndGlyphs" class="h" >***</text>
<rect x="0" y="0" width="520" height="1.4" fill="#666"/>
<rect x="0" y="0" width="1.2" height="619" fill="#666"/>
<rect x="518.4" y="0" width="1.6" height="619" fill="#666"/>
<rect x="0" y="617.3" width="520" height="1.7" fill="#666"/>
</svg>
</body>
</html>
